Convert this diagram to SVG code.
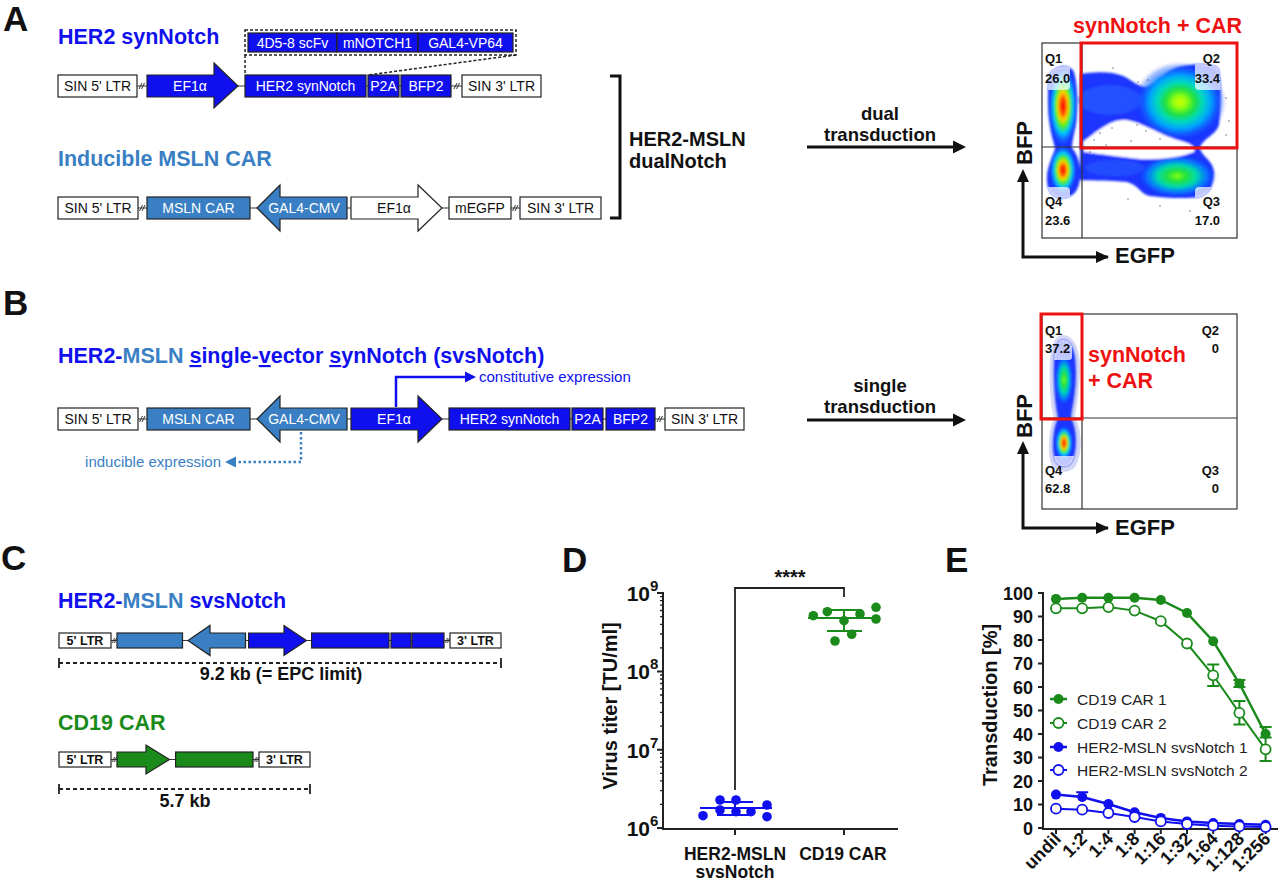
<svg xmlns="http://www.w3.org/2000/svg" width="1280" height="880" viewBox="0 0 1280 880">
<defs>
<style>
text{font-family:"Liberation Sans",Arial,sans-serif}
.pl{font-size:35px;font-weight:bold;fill:#111}
.ti{font-size:21.5px;font-weight:bold}
.cb{fill:#1010ee}
.cs{fill:#3a7fc4}
.cg{fill:#1a8a1a}
.bx{stroke:#222;stroke-width:1.2}
.wb{fill:#fff;stroke:#222;stroke-width:1.2}
.tw{font-size:14px;fill:#fff;text-anchor:middle}
.tk{font-size:14px;fill:#111;text-anchor:middle}
.ln{stroke:#333;stroke-width:1.2;fill:none}
.brk{stroke:#333;stroke-width:1;fill:none}
.sm{font-size:12.5px;font-weight:bold;fill:#111;text-anchor:middle}
.q{font-size:13px;font-weight:bold;fill:#111}
.qr{font-size:13px;font-weight:bold;fill:#111;text-anchor:end}
.ax{font-size:22px;font-weight:bold;fill:#111}
.mid{font-size:18.5px;font-weight:bold;fill:#111;text-anchor:middle}
.rd{fill:#ee1111;font-weight:bold;font-size:21.5px}
.arr{stroke:#111;stroke-width:3;fill:none}
.dim{stroke:#222;stroke-width:1.8;stroke-dasharray:4,3;fill:none}
.tick{stroke:#222;stroke-width:1.8;fill:none}
.axl{stroke:#222;stroke-width:2;fill:none}
.kb{font-size:18px;font-weight:bold;fill:#111;text-anchor:middle}
.dl{font-size:21px;font-weight:bold;fill:#111;text-anchor:end}
.ds{font-size:15px;font-weight:bold;fill:#111}
.el{font-size:18px;font-weight:bold;fill:#111;text-anchor:end}
.xl{font-size:17.5px;font-weight:bold;fill:#111;text-anchor:middle}
.lg{font-size:15.5px;fill:#222}
.grid{stroke:#333;stroke-width:1.2;fill:none}
.gbox{stroke:#ee1111;stroke-width:3;fill:none}
</style>
<radialGradient id="gRed">
<stop offset="0" stop-color="#ff0000"/>
<stop offset="0.2" stop-color="#ff5a00"/>
<stop offset="0.33" stop-color="#ffd200"/>
<stop offset="0.48" stop-color="#50f020"/>
<stop offset="0.66" stop-color="#00c8ff"/>
<stop offset="0.85" stop-color="#1060ff" stop-opacity="0.6"/>
<stop offset="1" stop-color="#1030ff" stop-opacity="0"/>
</radialGradient>
<radialGradient id="gGrn">
<stop offset="0" stop-color="#d0ff00"/>
<stop offset="0.15" stop-color="#90ff10"/>
<stop offset="0.32" stop-color="#20e040"/>
<stop offset="0.5" stop-color="#00d8c0"/>
<stop offset="0.68" stop-color="#00a0ff"/>
<stop offset="0.85" stop-color="#1060ff" stop-opacity="0.5"/>
<stop offset="1" stop-color="#1030ff" stop-opacity="0"/>
</radialGradient>
<radialGradient id="gGrn2">
<stop offset="0" stop-color="#80ff10"/>
<stop offset="0.25" stop-color="#20e040"/>
<stop offset="0.5" stop-color="#00d8b0"/>
<stop offset="0.75" stop-color="#0090ff" stop-opacity="0.7"/>
<stop offset="1" stop-color="#1030ff" stop-opacity="0"/>
</radialGradient>
<filter id="soft" x="-10%" y="-10%" width="120%" height="120%"><feGaussianBlur stdDeviation="0.8"/></filter>
<clipPath id="clipA">
<path d="M1050,75 C1052,67 1070,63 1074,72 C1078,85 1078,110 1076,125 C1074,135 1072,142 1072,148 C1078,155 1081,165 1080,178 C1079,192 1072,198 1062,198 C1052,198 1046,190 1047,176 C1048,163 1054,155 1055,148 C1053,140 1048,125 1048,105 C1048,90 1048,82 1050,75 Z"/>
<path d="M1080,74 C1095,72 1110,71 1123,76 C1132,80 1138,87 1146,87 C1156,84 1162,73 1175,68 C1190,63 1210,63 1218,68 C1222,80 1221,110 1219,125 C1216,135 1201,140 1200,148 C1201,156 1213,160 1214,172 C1214,185 1210,193 1200,197 C1185,199 1165,198 1150,196 C1140,194 1140,186 1127,182 C1110,180 1095,181 1080,180 Z"/>
</clipPath>
<clipPath id="clipB">
<path d="M1063,340 C1072,340 1076,352 1076,372 C1076,395 1072,408 1071,418 C1077,428 1078,450 1072,462 C1068,468 1058,468 1055,460 C1051,448 1053,428 1058,418 C1055,405 1053,380 1054,360 C1055,348 1058,340 1063,340 Z"/>
</clipPath>
</defs>
<rect width="1280" height="880" fill="#fff"/>

<!-- Panel letters -->
<g id="letters">
<text class="pl" x="3" y="31">A</text>
<text class="pl" x="3" y="315">B</text>
<text class="pl" x="1" y="570">C</text>
<text class="pl" x="562" y="572">D</text>
<text class="pl" x="945" y="572">E</text>
</g>

<!-- Panel A -->
<g id="A-titles">
<text class="ti cb" x="58" y="44">HER2 synNotch</text>
<text class="ti cs" x="58" y="166">Inducible MSLN CAR</text>
</g>

<g id="A-row1-links">
<path class="ln" d="M137,86 H147 M238,86 H245 M366,86 H368 M399,86 H401 M451,86 H462"/>
<path class="brk" d="M139,89 L142,83 M141.5,89 L144.5,83 M454,89 L457,83 M456.5,89 L459.5,83"/>
<path d="M245,55 V75 M516,55 L368,75" stroke="#222" stroke-width="1.5" stroke-dasharray="3,2" fill="none"/>
</g>
<g id="A-inset">
<rect x="245" y="30" width="271" height="25" fill="none" stroke="#222" stroke-width="1.5" stroke-dasharray="3,2"/>
<rect class="cb bx" x="248" y="33" width="89" height="19"/>
<rect class="cb bx" x="337" y="33" width="81" height="19"/>
<rect class="cb bx" x="418" y="33" width="95" height="19"/>
<text class="tw" x="292.5" y="47.5">4D5-8 scFv</text>
<text class="tw" x="377.5" y="47.5">mNOTCH1</text>
<text class="tw" x="465.5" y="47.5">GAL4-VP64</text>
</g>
<g id="A-sin5-1"><rect class="wb" x="58" y="75" width="79" height="22"/><text class="tk" x="97.5" y="91">SIN 5' LTR</text></g>
<g id="A-ef1a-1"><polygon class="cb bx" points="147,75 214,75 214,63 238,86 214,108 214,97 147,97"/><text class="tw" x="190" y="91">EF1α</text></g>
<g id="A-her2-1"><rect class="cb bx" x="245" y="75" width="121" height="22"/><text class="tw" x="305.5" y="91">HER2 synNotch</text></g>
<g id="A-p2a-1"><rect class="cb bx" x="368" y="75" width="31" height="22"/><text class="tw" x="383.5" y="91">P2A</text></g>
<g id="A-bfp2-1"><rect class="cb bx" x="401" y="75" width="50" height="22"/><text class="tw" x="426" y="91">BFP2</text></g>
<g id="A-sin3-1"><rect class="wb" x="462" y="75" width="79" height="22"/><text class="tk" x="501.5" y="91">SIN 3' LTR</text></g>

<g id="A-row2-links">
<path class="ln" d="M138,208 H147 M250,208 H257 M347,208 H351 M442,208 H449 M511,208 H520"/>
<path class="brk" d="M139.5,211 L142.5,205 M142,211 L145,205 M512.5,211 L515.5,205 M515,211 L518,205"/>
</g>
<g id="A-sin5-2"><rect class="wb" x="58" y="197" width="80" height="22"/><text class="tk" x="98" y="213">SIN 5' LTR</text></g>
<g id="A-msln-2"><rect class="cs bx" x="147" y="197" width="103" height="22"/><text class="tw" x="198.5" y="213">MSLN CAR</text></g>
<g id="A-gal4-2"><polygon class="cs bx" points="257,208 280,185 280,197 347,197 347,219 280,219 280,231"/><text class="tw" x="304" y="213">GAL4-CMV</text></g>
<g id="A-ef1a-2"><polygon class="wb" points="351,197 418,197 418,185 442,208 418,231 418,219 351,219"/><text class="tk" x="394" y="213">EF1α</text></g>
<g id="A-megfp-2"><rect class="wb" x="449" y="197" width="62" height="22"/><text class="tk" x="480" y="213">mEGFP</text></g>
<g id="A-sin3-2"><rect class="wb" x="520" y="197" width="81" height="22"/><text class="tk" x="560.5" y="213">SIN 3' LTR</text></g>

<g id="A-bracket">
<path d="M610,76 H620 V218 H610" stroke="#111" stroke-width="3" fill="none"/>
<text x="629" y="146" font-size="20" font-weight="bold" fill="#111">HER2-MSLN</text>
<text x="629" y="168" font-size="20" font-weight="bold" fill="#111">dualNotch</text>
</g>

<g id="A-arrow">
<text class="mid" x="880" y="120">dual</text>
<text class="mid" x="880" y="141">transduction</text>
</g>

<!-- Flow plot A -->
<g id="flowA">
<rect x="1042" y="43" width="195" height="195" fill="#fff"/>
<g filter="url(#soft)">
<path fill="#1a34ff" d="M1050,75 C1052,67 1070,63 1074,72 C1078,85 1078,110 1076,125 C1074,135 1072,142 1072,148 C1078,155 1081,165 1080,178 C1079,192 1072,198 1062,198 C1052,198 1046,190 1047,176 C1048,163 1054,155 1055,148 C1053,140 1048,125 1048,105 C1048,90 1048,82 1050,75 Z"/>
<path fill="#1a34ff" d="M1080,74 C1095,72 1110,71 1123,76 C1132,80 1138,87 1146,87 C1156,84 1162,73 1175,68 C1190,63 1210,63 1218,68 C1222,80 1221,110 1219,125 C1216,135 1201,140 1200,148 C1201,156 1213,160 1214,172 C1214,185 1210,193 1200,197 C1185,199 1165,198 1150,196 C1140,194 1140,186 1127,182 C1110,180 1095,181 1080,180 Z"/>
<ellipse cx="1110" cy="100" rx="32" ry="15" fill="#2c66ff" opacity="0.6"/>
<ellipse cx="1115" cy="168" rx="30" ry="8" fill="#2c66ff" opacity="0.5"/>
<ellipse cx="1063" cy="106" rx="15" ry="42" fill="url(#gRed)"/>
<ellipse cx="1063" cy="170" rx="14" ry="26" fill="url(#gRed)"/>
<ellipse cx="1180" cy="102" rx="46" ry="40" fill="url(#gGrn)"/>
<ellipse cx="1177" cy="176" rx="40" ry="22" fill="url(#gGrn2)"/>
<path fill="#fff" d="M1083,142 C1095,133 1110,119 1125,120 C1140,121 1160,135 1178,140 C1190,143 1197,147 1194,152 C1182,157 1160,160 1140,159 C1120,157 1100,154 1084,152 Z"/>
</g>
<g clip-path="url(#clipA)" fill="#fff" opacity="0.72">
<rect x="1046" y="62" width="24" height="28" rx="4"/>
<rect x="1195" y="62" width="28" height="28" rx="4"/>
<rect x="1046" y="187" width="24" height="14" rx="4"/>
<rect x="1195" y="187" width="24" height="14" rx="4"/>
</g>
<g fill="#556">
<circle cx="1100" cy="133" r="0.7"/><circle cx="1112" cy="128" r="0.7"/><circle cx="1131" cy="141" r="0.7"/>
<circle cx="1146" cy="131" r="0.7"/><circle cx="1160" cy="139" r="0.7"/><circle cx="1106" cy="145" r="0.7"/>
<circle cx="1226" cy="98" r="0.7"/><circle cx="1229" cy="121" r="0.7"/><circle cx="1160" cy="206" r="0.7"/>
<circle cx="1190" cy="211" r="0.7"/><circle cx="1128" cy="199" r="0.7"/><circle cx="1113" cy="68" r="0.7"/>
<circle cx="1094" cy="140" r="0.7"/><circle cx="1137" cy="125" r="0.7"/><circle cx="1226" cy="135" r="0.7"/>
<circle cx="1138" cy="82" r="0.7"/><circle cx="1148" cy="80" r="0.7"/><circle cx="1090" cy="152" r="0.7"/>
</g>
<rect class="grid" x="1042" y="43" width="195" height="195"/>
<path class="grid" d="M1082,43 V238 M1042,147 H1237"/>
<rect class="gbox" x="1081" y="43" width="156" height="105"/>
<text class="q" x="1045" y="63">Q1</text><text class="q" x="1045" y="83">26.0</text>
<text class="qr" x="1220" y="63">Q2</text><text class="qr" x="1220" y="83">33.4</text>
<text class="q" x="1045" y="206">Q4</text><text class="q" x="1045" y="225">23.6</text>
<text class="qr" x="1220" y="206">Q3</text><text class="qr" x="1220" y="225">17.0</text>
<text class="rd" x="1073" y="33">synNotch + CAR</text>
<text class="ax" transform="translate(1032,143) rotate(-90)" text-anchor="middle">BFP</text>
<text class="ax" x="1115" y="263">EGFP</text>
</g>

<!-- Panel B -->
<g id="B-title">
<text class="ti cb" x="58" y="363">HER2-<tspan class="cs">MSLN</tspan> <tspan text-decoration="underline">s</tspan>ingle-<tspan text-decoration="underline">v</tspan>ector <tspan text-decoration="underline">s</tspan>ynNotch (svsNotch)</text>
</g>
<g id="B-links">
<path class="ln" d="M138,419 H147 M250,419 H257 M347,419 H351 M442,419 H449 M570,419 H572 M603,419 H606 M655,419 H665"/>
<path class="brk" d="M139.5,422 L142.5,416 M142,422 L145,416 M657,422 L660,416 M659.5,422 L662.5,416"/>
</g>
<g id="B-sin5"><rect class="wb" x="58" y="408" width="80" height="22"/><text class="tk" x="98" y="424">SIN 5' LTR</text></g>
<g id="B-msln"><rect class="cs bx" x="147" y="408" width="103" height="22"/><text class="tw" x="198.5" y="424">MSLN CAR</text></g>
<g id="B-gal4"><polygon class="cs bx" points="257,419 280,396 280,408 347,408 347,430 280,430 280,442"/><text class="tw" x="304" y="424">GAL4-CMV</text></g>
<g id="B-ef1a"><polygon class="cb bx" points="351,408 418,408 418,396 442,419 418,442 418,430 351,430"/><text class="tw" x="394" y="424">EF1α</text></g>
<g id="B-her2"><rect class="cb bx" x="449" y="408" width="121" height="22"/><text class="tw" x="509.5" y="424">HER2 synNotch</text></g>
<g id="B-p2a"><rect class="cb bx" x="572" y="408" width="31" height="22"/><text class="tw" x="587.5" y="424">P2A</text></g>
<g id="B-bfp2"><rect class="cb bx" x="606" y="408" width="49" height="22"/><text class="tw" x="630.5" y="424">BFP2</text></g>
<g id="B-sin3"><rect class="wb" x="665" y="408" width="79" height="22"/><text class="tk" x="704.5" y="424">SIN 3' LTR</text></g>

<g id="B-annotations">
<path d="M396,407 V377 H466" stroke="#1010ee" stroke-width="2.5" fill="none"/>
<polygon points="465,371.5 476,377 465,382.5" fill="#1010ee"/>
<text x="479" y="382" font-size="15" fill="#1010ee">constitutive expression</text>
<path d="M301,432 V462 H236" stroke="#3a7fc4" stroke-width="2.5" stroke-dasharray="2.5,2.5" fill="none"/>
<polygon points="236,456.5 225,462 236,467.5" fill="#3a7fc4"/>
<text x="221" y="467" font-size="15" fill="#3a7fc4" text-anchor="end">inducible expression</text>
</g>

<g id="B-arrow">
<text class="mid" x="880" y="392">single</text>
<text class="mid" x="880" y="413">transduction</text>
</g>

<!-- Flow plot B -->
<g id="flowB">
<path fill="#d4d8f4" d="M1063,335 C1075,335 1081,352 1080,372 C1079,395 1076,408 1075,418 C1082,428 1083,452 1076,466 C1070,474 1056,474 1051,464 C1047,450 1049,428 1054,418 C1050,405 1049,380 1050,360 C1051,345 1055,335 1063,335 Z"/>
<g filter="url(#soft)">
<path fill="#1a34ff" d="M1063,340 C1072,340 1076,352 1076,372 C1076,395 1072,408 1071,418 C1077,428 1078,450 1072,462 C1068,468 1058,468 1055,460 C1051,448 1053,428 1058,418 C1055,405 1053,380 1054,360 C1055,348 1058,340 1063,340 Z"/>
<ellipse cx="1064" cy="380" rx="9" ry="26" fill="url(#gGrn2)"/>
<ellipse cx="1064" cy="443" rx="9" ry="18" fill="url(#gRed)"/>
</g>
<g clip-path="url(#clipB)" fill="#fff" opacity="0.72">
<rect x="1046" y="336" width="26" height="24" rx="3"/>
<rect x="1046" y="456" width="34" height="16" rx="3"/>
</g>
<rect class="grid" x="1042" y="314" width="195" height="195"/>
<path class="grid" d="M1082,314 V509 M1042,418 H1237"/>
<rect class="gbox" x="1041" y="314" width="41" height="105"/>
<text class="q" x="1045" y="335">Q1</text><text class="q" x="1045" y="353">37.2</text>
<text class="qr" x="1219" y="335">Q2</text><text class="qr" x="1219" y="353">0</text>
<text class="q" x="1045" y="475">Q4</text><text class="q" x="1045" y="493">62.8</text>
<text class="qr" x="1219" y="475">Q3</text><text class="qr" x="1219" y="493">0</text>
<text class="rd" x="1088" y="362">synNotch</text>
<text class="rd" x="1088" y="388">+ CAR</text>
<text class="ax" transform="translate(1032,416) rotate(-90)" text-anchor="middle">BFP</text>
<text class="ax" x="1115" y="535">EGFP</text>
</g>

<!-- Connectors -->
<g id="connectors">
<path class="arr" d="M807,147 H956"/>
<polygon points="953,140.5 966,147 953,153.5" fill="#111"/>
<path class="arr" d="M807,420 H956"/>
<polygon points="953,413.5 966,420 953,426.5" fill="#111"/>
<path class="arr" d="M1108,257 H1023 V180"/>
<polygon points="1017,182 1023,169 1029,182" fill="#111"/>
<polygon points="1096,251 1109,257 1096,263" fill="#111"/>
<path class="arr" d="M1108,528 H1023 V452"/>
<polygon points="1017,454 1023,441 1029,454" fill="#111"/>
<polygon points="1096,522 1109,528 1096,534" fill="#111"/>
</g>

<!-- Panel C -->
<g id="C-titles">
<text class="ti cb" x="58" y="608">HER2-<tspan class="cs">MSLN</tspan> svsNotch</text>
<text class="ti cg" x="58" y="730">CD19 CAR</text>
</g>
<g id="C-row1">
<path class="ln" d="M111,640.5 H117 M182.5,640.5 H188 M245.5,640.5 H248.6 M306.5,640.5 H311.6 M389,640.5 H391 M411,640.5 H412 M444,640.5 H450"/>
<path class="brk" d="M112.5,643 L114.5,638 M114.5,643 L116.5,638 M445.5,643 L447.5,638 M447.5,643 L449.5,638"/>
<rect class="wb" x="59" y="633" width="52" height="15"/><text class="sm" x="85" y="645">5' LTR</text>
<rect class="cs bx" x="117" y="633" width="65.5" height="15"/>
<polygon class="cs bx" points="188,640.5 210,625.5 210,633 245.5,633 245.5,648 210,648 210,655.5"/>
<polygon class="cb bx" points="248.6,633 284,633 284,625.5 306.5,640.5 284,655.5 284,648 248.6,648"/>
<rect class="cb bx" x="311.6" y="633" width="77.4" height="15"/>
<rect class="cb bx" x="391" y="633" width="20" height="15"/>
<rect class="cb bx" x="412" y="633" width="32" height="15"/>
<rect class="wb" x="450" y="633" width="51" height="15"/><text class="sm" x="475.5" y="645">3' LTR</text>
<path class="dim" d="M59,663 H501"/>
<path class="tick" d="M59,658 V668 M501,658 V668"/>
<text class="kb" x="281" y="680">9.2 kb (= EPC limit)</text>
</g>
<g id="C-row2">
<path class="ln" d="M111,759.5 H117 M169.4,759.5 H175.6 M253,759.5 H259"/>
<path class="brk" d="M112.5,762 L114.5,757 M114.5,762 L116.5,757 M254.5,762 L256.5,757 M256.5,762 L258.5,757"/>
<rect class="wb" x="59" y="752" width="52" height="15"/><text class="sm" x="85" y="764">5' LTR</text>
<polygon class="cg bx" points="117,752 146,752 146,745 169.4,759.5 146,774 146,767 117,767"/>
<rect class="cg bx" x="175.6" y="752" width="77.4" height="15"/>
<rect class="wb" x="259" y="752" width="51" height="15"/><text class="sm" x="284.5" y="764">3' LTR</text>
<path class="dim" d="M59,789 H310"/>
<path class="tick" d="M59,784 V794 M310,784 V794"/>
<text class="kb" x="185" y="807">5.7 kb</text>
</g>

<!-- Panel D -->
<g id="D-plot">
<path class="axl" d="M663,592 V829 H898"/>
<path class="axl" d="M657,828 H663 M657,749.7 H663 M657,671.4 H663 M657,593.1 H663"/>
<path stroke="#222" stroke-width="1.3" d="M660,804.4 H663 M660,790.6 H663 M660,780.9 H663 M660,773.3 H663 M660,767.1 H663 M660,761.8 H663 M660,757.3 H663 M660,753.3 H663 M660,726.1 H663 M660,712.3 H663 M660,702.6 H663 M660,695 H663 M660,688.8 H663 M660,683.5 H663 M660,679 H663 M660,675 H663 M660,647.8 H663 M660,634 H663 M660,624.3 H663 M660,616.7 H663 M660,610.5 H663 M660,605.2 H663 M660,600.7 H663 M660,596.7 H663"/>
<text class="dl" x="650" y="836">10</text><text class="ds" x="650" y="826">6</text>
<text class="dl" x="650" y="757.7">10</text><text class="ds" x="650" y="747.7">7</text>
<text class="dl" x="650" y="679.4">10</text><text class="ds" x="650" y="669.4">8</text>
<text class="dl" x="650" y="601.1">10</text><text class="ds" x="650" y="591.1">9</text>
<path class="axl" d="M735,829 V835 M844,829 V835"/>
<text class="xl" x="735" y="860">HER2-MSLN</text>
<text class="xl" x="735" y="878">svsNotch</text>
<text class="xl" x="843" y="860">CD19 CAR</text>
<text transform="translate(617,706) rotate(-90)" text-anchor="middle" font-size="20" font-weight="bold" fill="#111">Virus titer [TU/ml]</text>
<path d="M735,790 V588 H844 V597" stroke="#222" stroke-width="1.8" fill="none"/>
<text x="790" y="584" text-anchor="middle" font-size="20" font-weight="bold" fill="#111">****</text>
<g fill="#1010ee">
<circle cx="703" cy="815.7" r="4.8"/><circle cx="720" cy="800" r="4.8"/><circle cx="720" cy="810" r="4.8"/>
<circle cx="736" cy="800" r="4.8"/><circle cx="736" cy="811.7" r="4.8"/><circle cx="751" cy="811.7" r="4.8"/>
<circle cx="767" cy="805" r="4.8"/><circle cx="767" cy="816.7" r="4.8"/>
</g>
<path d="M700,808 H772 M717,802 H753 M717,815 H753 M735,802 V815" stroke="#1010ee" stroke-width="2" fill="none"/>
<g fill="#1a8a1a">
<circle cx="813.3" cy="615.7" r="4.8"/><circle cx="827.3" cy="611.7" r="4.8"/><circle cx="835" cy="641" r="4.8"/>
<circle cx="844" cy="620.7" r="4.8"/><circle cx="851.7" cy="634.3" r="4.8"/><circle cx="860" cy="614" r="4.8"/>
<circle cx="876" cy="607.3" r="4.8"/><circle cx="876" cy="619" r="4.8"/>
</g>
<path d="M808,618 H880 M827,610 H862 M827,631 H862 M844,610 V631" stroke="#1a8a1a" stroke-width="2" fill="none"/>
</g>

<!-- Panel E -->
<g id="E-plot">
<path class="axl" d="M1043,592 V829 H1278"/>
<path class="axl" d="M1038,828 H1043 M1038,804.5 H1043 M1038,781 H1043 M1038,757.5 H1043 M1038,734 H1043 M1038,710.5 H1043 M1038,687 H1043 M1038,663.5 H1043 M1038,640 H1043 M1038,616.5 H1043 M1038,593 H1043"/>
<text class="el" x="1033" y="834.5">0</text>
<text class="el" x="1033" y="811">10</text>
<text class="el" x="1033" y="787.5">20</text>
<text class="el" x="1033" y="764">30</text>
<text class="el" x="1033" y="740.5">40</text>
<text class="el" x="1033" y="717">50</text>
<text class="el" x="1033" y="693.5">60</text>
<text class="el" x="1033" y="670">70</text>
<text class="el" x="1033" y="646.5">80</text>
<text class="el" x="1033" y="623">90</text>
<text class="el" x="1033" y="599.5">100</text>
<text transform="translate(997,705) rotate(-90)" text-anchor="middle" font-size="20" font-weight="bold" fill="#111">Transduction [%]</text>
<path class="axl" d="M1056,829 V834 M1082.2,829 V834 M1108.4,829 V834 M1134.6,829 V834 M1160.8,829 V834 M1187,829 V834 M1213.2,829 V834 M1239.4,829 V834 M1265.6,829 V834"/>
<g font-size="18" font-weight="bold" fill="#111" text-anchor="end">
<text transform="translate(1062,840) rotate(-45)">undil</text>
<text transform="translate(1088.2,840) rotate(-45)">1:2</text>
<text transform="translate(1114.4,840) rotate(-45)">1:4</text>
<text transform="translate(1140.6,840) rotate(-45)">1:8</text>
<text transform="translate(1166.8,840) rotate(-45)">1:16</text>
<text transform="translate(1193,840) rotate(-45)">1:32</text>
<text transform="translate(1219.2,840) rotate(-45)">1:64</text>
<text transform="translate(1245.4,840) rotate(-45)">1:128</text>
<text transform="translate(1271.6,840) rotate(-45)">1:256</text>
</g>
<path stroke="#1a8a1a" stroke-width="2" fill="none" d="M1213.2,664.6 V685.9 M1207.2,664.6 H1219.2 M1207.2,685.9 H1219.2 M1239.4,701.1 V724.6 M1233.4,701.1 H1245.4 M1233.4,724.6 H1245.4 M1265.6,737.6 V761 M1259.6,737.6 H1271.6 M1259.6,761 H1271.6 M1265.6,727 V741 M1259.6,727 H1271.6 M1213.2,637.6 V644.7 M1239.4,679.9 V687 M1233.4,679.9 H1245.4 M1233.4,687 H1245.4"/>
<path stroke="#1010ee" stroke-width="2" fill="none" d="M1082.2,792.3 V801.7 M1076.2,792.3 H1088.2"/>
<polyline fill="none" stroke="#1a8a1a" stroke-width="2.5" points="1056,598.9 1082.2,597.7 1108.4,597.7 1134.6,597.7 1160.8,600 1187,613 1213.2,641.2 1239.4,683.5 1265.6,734"/>
<polyline fill="none" stroke="#1a8a1a" stroke-width="2" points="1056,608.3 1082.2,608.3 1108.4,607.1 1134.6,610.6 1160.8,621.2 1187,643.5 1213.2,675.3 1239.4,712.9 1265.6,749.3"/>
<polyline fill="none" stroke="#1010ee" stroke-width="2.5" points="1056,794.6 1082.2,797 1108.4,804 1134.6,812.3 1160.8,817.9 1187,821.4 1213.2,823.1 1239.4,824 1265.6,824.7"/>
<polyline fill="none" stroke="#1010ee" stroke-width="2" points="1056,808.7 1082.2,809.7 1108.4,813 1134.6,817 1160.8,821.4 1187,824 1213.2,825.7 1239.4,826.4 1265.6,827.1"/>
<g fill="#1a8a1a">
<circle cx="1056" cy="598.9" r="5"/><circle cx="1082.2" cy="597.7" r="5"/><circle cx="1108.4" cy="597.7" r="5"/><circle cx="1134.6" cy="597.7" r="5"/><circle cx="1160.8" cy="600" r="5"/><circle cx="1187" cy="613" r="5"/><circle cx="1213.2" cy="641.2" r="5"/><circle cx="1239.4" cy="683.5" r="5"/><circle cx="1265.6" cy="734" r="5"/>
</g>
<g fill="#fff" stroke="#1a8a1a" stroke-width="1.8">
<circle cx="1056" cy="608.3" r="5"/><circle cx="1082.2" cy="608.3" r="5"/><circle cx="1108.4" cy="607.1" r="5"/><circle cx="1134.6" cy="610.6" r="5"/><circle cx="1160.8" cy="621.2" r="5"/><circle cx="1187" cy="643.5" r="5"/><circle cx="1213.2" cy="675.3" r="5"/><circle cx="1239.4" cy="712.9" r="5"/><circle cx="1265.6" cy="749.3" r="5"/>
</g>
<g fill="#1010ee">
<circle cx="1056" cy="794.6" r="5"/><circle cx="1082.2" cy="797" r="5"/><circle cx="1108.4" cy="804" r="5"/><circle cx="1134.6" cy="812.3" r="5"/><circle cx="1160.8" cy="817.9" r="5"/><circle cx="1187" cy="821.4" r="5"/><circle cx="1213.2" cy="823.1" r="5"/><circle cx="1239.4" cy="824" r="5"/><circle cx="1265.6" cy="824.7" r="5"/>
</g>
<g fill="#fff" stroke="#1010ee" stroke-width="1.8">
<circle cx="1056" cy="808.7" r="5"/><circle cx="1082.2" cy="809.7" r="5"/><circle cx="1108.4" cy="813" r="5"/><circle cx="1134.6" cy="817" r="5"/><circle cx="1160.8" cy="821.4" r="5"/><circle cx="1187" cy="824" r="5"/><circle cx="1213.2" cy="825.7" r="5"/><circle cx="1239.4" cy="826.4" r="5"/><circle cx="1265.6" cy="827.1" r="5"/>
</g>
<path d="M1050,699 H1067" stroke="#1a8a1a" stroke-width="2.5"/><circle cx="1058.5" cy="699" r="5" fill="#1a8a1a"/>
<text class="lg" x="1077" y="704.5">CD19 CAR 1</text>
<path d="M1050,723 H1067" stroke="#1a8a1a" stroke-width="2"/><circle cx="1058.5" cy="723" r="5" fill="#fff" stroke="#1a8a1a" stroke-width="1.8"/>
<text class="lg" x="1077" y="728.5">CD19 CAR 2</text>
<path d="M1050,747 H1067" stroke="#1010ee" stroke-width="2.5"/><circle cx="1058.5" cy="747" r="5" fill="#1010ee"/>
<text class="lg" x="1077" y="752.5">HER2-MSLN svsNotch 1</text>
<path d="M1050,770 H1067" stroke="#1010ee" stroke-width="2"/><circle cx="1058.5" cy="770" r="5" fill="#fff" stroke="#1010ee" stroke-width="1.8"/>
<text class="lg" x="1077" y="775.5">HER2-MSLN svsNotch 2</text>
</g>
</svg>
